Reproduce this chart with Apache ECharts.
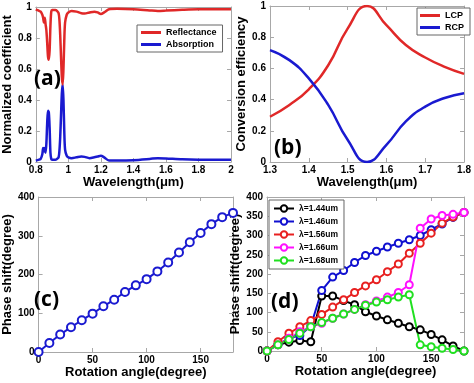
<!DOCTYPE html>
<html><head><meta charset="utf-8">
<script src="https://cdn.jsdelivr.net/npm/echarts@6/dist/echarts.min.js"></script>
<style>html,body{margin:0;padding:0;background:#fff}#c{width:474px;height:383px}</style>
</head><body><div id="c"></div>
<script>
// Panel (a)
const aWave = [0.80,0.81,0.82,0.83,0.84,0.845,0.85,0.855,0.86,0.865,0.87,0.875,0.88,0.885,0.89,0.895,0.90,0.91,0.92,0.93,0.94,0.945,0.95,0.955,0.96,0.965,0.97,0.975,0.98,0.99,1.00,1.02,1.05,1.08,1.10,1.13,1.16,1.18,1.20,1.22,1.25,1.30,1.40,1.50,1.55,1.60,1.70,1.80,1.90,2.00];
const aReflect = [0.985,0.98,0.975,0.97,0.95,0.93,0.90,0.93,0.89,0.85,0.77,0.68,0.66,0.72,0.88,0.97,0.98,0.98,0.98,0.975,0.96,0.92,0.82,0.68,0.55,0.50,0.60,0.78,0.90,0.95,0.965,0.975,0.97,0.96,0.958,0.965,0.97,0.965,0.955,0.965,0.985,0.988,0.985,0.978,0.975,0.977,0.982,0.985,0.985,0.985];
const aAbsorb = [0.01,0.012,0.015,0.02,0.05,0.09,0.07,0.09,0.06,0.12,0.25,0.33,0.32,0.22,0.06,0.02,0.015,0.015,0.015,0.02,0.03,0.07,0.16,0.30,0.44,0.50,0.40,0.20,0.08,0.04,0.03,0.025,0.03,0.035,0.033,0.025,0.03,0.035,0.04,0.03,0.01,0.01,0.012,0.02,0.025,0.023,0.017,0.015,0.015,0.015];
// Panel (b)
const bWave = [1.30,1.35,1.40,1.45,1.50,1.55,1.60,1.65,1.70,1.75,1.80];
const bLCP = [0.29,0.366,0.466,0.62,0.855,1.0,0.877,0.75,0.67,0.61,0.565];
const bRCP = [0.717,0.653,0.536,0.366,0.143,0.0,0.11,0.26,0.355,0.41,0.44];
// Panels (c),(d)
const angles = [0,10,20,30,40,50,60,70,80,90,100,110,120,130,140,150,160,170,180];
const cPhase = [0,23,45,64,82,99,118,135,155,172,188,208,231,257,283,307,330,348,359];
const d144 = [0,16,23,27,24,143,143,131,120,102,91,81,72,63,55,43,29,13,0];
const d146 = [0,17,33,40,65,157,192,209,230,248,259,270,280,289,300,315,330,347,360];
const d156 = [0,24,46,63,79,95,114,133,152,169,185,206,226,254,280,306,332,348,360];
const d166 = [0,16,33,50,63,72,85,96,108,120,130,140,152,172,319,343,352,355,360];
const d168 = [0,16,30,46,63,74,85,96,108,119,127,133,140,146,16,11,7,4,0];
const dNames = ['λ=1.44um','λ=1.46um','λ=1.56um','λ=1.66um','λ=1.68um'];
const dColors = ['#000000','#1010d0','#e82020','#ff10ff','#20e020'];
const aTicks = {min:0.8,max:2,interval:0.2};
const bTicks = {min:1.3,max:1.8,interval:0.1};

const chart = echarts.init(document.getElementById('c'));
const F = 'Liberation Sans, Arial, sans-serif';
const grids = [
  {left:34, top:7, width:197, height:155},
  {left:270, top:6, width:198, height:156},
  {left:32, top:197, width:201, height:155},
  {left:267, top:197, width:197, height:154}
];
const xAxis = [], yAxis = [];
function mkAxes(g, xs, ys, xname, yname, xfmt, showMax) {
  const common = {gridIndex:g, axisLine:{show:true, onZero:false, lineStyle:{color:'#a8a8a8', width:1}}, splitLine:{show:false},
    axisTick:{show:true, inside:true, length:4, lineStyle:{color:'#a8a8a8'}}};
  xAxis.push(Object.assign({type:'value', position:'bottom', min:xs.min, max:xs.max, interval:xs.interval,
    axisLabel:{color:'#000', fontFamily:F, fontWeight:'bold', fontSize:10, margin:3, formatter:xfmt, showMaxLabel:showMax},
    name:xname, nameLocation:'middle', nameGap:13, nameTextStyle:{color:'#000', fontFamily:F, fontWeight:'bold', fontSize:13}}, common));
  xAxis.push(Object.assign({type:'value', position:'top', min:xs.min, max:xs.max, interval:xs.interval, axisLabel:{show:false}}, common));
  yAxis.push(Object.assign({type:'value', position:'left', min:ys.min, max:ys.max, interval:ys.interval,
    axisLabel:{color:'#000', fontFamily:F, fontWeight:'bold', fontSize:10, margin:4},
    name:yname, nameLocation:'middle', nameGap:ys.gap, nameTextStyle:{color:'#000', fontFamily:F, fontWeight:'bold', fontSize:13}}, common));
  yAxis.push(Object.assign({type:'value', position:'right', min:ys.min, max:ys.max, interval:ys.interval, axisLabel:{show:false}}, common));
}
const fmtA = v => (Math.abs(v-1)<1e-9||Math.abs(v-2)<1e-9) ? String(Math.round(v)) : v.toFixed(1);
const fmtB = v => v.toFixed(1);
mkAxes(0, aTicks, {min:0,max:1,interval:0.2,gap:19}, 'Wavelength(μm)', 'Normalized coefficient', fmtA, true);
mkAxes(1, bTicks, {min:0,max:1,interval:0.2,gap:18}, 'Wavelength(μm)', 'Conversion efficiency', fmtB, true);
mkAxes(2, {min:0,max:180,interval:50}, {min:0,max:400,interval:100,gap:18}, 'Rotation angle(degree)', 'Phase shift(degree)', undefined, false);
mkAxes(3, {min:0,max:180,interval:50}, {min:0,max:400,interval:50,gap:18}, 'Rotation angle(degree)', 'Phase shift(degree)', undefined, false);

const zip = (xs, ys) => xs.map((x,i)=>[x, ys[i]]);
const series = [
  {name:'Absorption', type:'line', xAxisIndex:0, yAxisIndex:0, data:zip(aWave,aAbsorb), symbol:'none', smooth:0.3, lineStyle:{color:'#1a1ad0', width:2.5}, itemStyle:{color:'#1a1ad0'}},
  {name:'Reflectance', type:'line', xAxisIndex:0, yAxisIndex:0, data:zip(aWave,aReflect), symbol:'none', smooth:0.3, lineStyle:{color:'#e02828', width:2.5}, itemStyle:{color:'#e02828'}},
  {name:'LCP', type:'line', xAxisIndex:2, yAxisIndex:2, data:zip(bWave,bLCP), symbol:'none', smooth:true, lineStyle:{color:'#e02828', width:2.5}, itemStyle:{color:'#e02828'}},
  {name:'RCP', type:'line', xAxisIndex:2, yAxisIndex:2, data:zip(bWave,bRCP), symbol:'none', smooth:true, lineStyle:{color:'#1a1ad0', width:2.5}, itemStyle:{color:'#1a1ad0'}},
  {name:'cphase', type:'line', xAxisIndex:4, yAxisIndex:4, data:zip(angles,cPhase), symbol:'emptyCircle', symbolSize:8, lineStyle:{color:'#1a1ad0', width:2}, itemStyle:{color:'#1a1ad0', borderWidth:1.8}}
];
[d144,d146,d156,d166,d168].forEach((d,i)=>{
  series.push({name:dNames[i], type:'line', xAxisIndex:6, yAxisIndex:6, data:zip(angles,d), symbol:'emptyCircle', symbolSize:7,
    lineStyle:{color:dColors[i], width:2}, itemStyle:{color:dColors[i], borderWidth:1.6}});
});

const legBase = {orient:'vertical', backgroundColor:'#fff', borderColor:'#666', borderWidth:1, itemWidth:20, itemHeight:8,
  textStyle:{color:'#000', fontFamily:F, fontWeight:'bold', fontSize:9}, padding:[4,6,4,4], selectedMode:false};
const legend = [
  Object.assign({}, legBase, {data:['Reflectance','Absorption'], left:137, top:25, itemGap:3, icon:'rect', itemHeight:3, padding:[3,6,3,4]}),
  Object.assign({}, legBase, {data:['LCP','RCP'], left:417, top:8, itemGap:3, padding:[3,6,3,3], icon:'rect', itemHeight:3}),
  Object.assign({}, legBase, {data:dNames, left:269, top:200, itemGap:4, textStyle:{color:'#000', fontFamily:F, fontWeight:'bold', fontSize:8.5}})
];
const lab = (t,x,y) => ({type:'text', left:x, top:y, z:100, style:{text:t, fill:'#000', font:'bold 21px "Open Sans", sans-serif'}});
chart.setOption({
  animation:false,
  backgroundColor:'#fff',
  grid:grids,
  xAxis:xAxis, yAxis:yAxis,
  legend:legend,
  series:series,
  graphic:[lab('(a)',34,69), lab('(b)',274,138), lab('(c)',34,290), lab('(d)',271,292)]
});
</script></body></html>
